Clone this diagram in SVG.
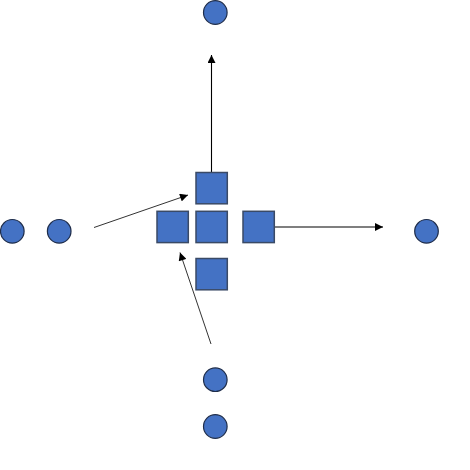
<svg xmlns="http://www.w3.org/2000/svg" width="470" height="470" viewBox="0 0 470 470">
<style>
.sq{fill:#4472C4;stroke:#3A4A66;stroke-width:1.5}
.ci{fill:#4472C4;stroke:#1F2D4A;stroke-width:1.2}
.ln{fill:none;stroke:#000;stroke-width:1.1}
.lg{fill:none;stroke:#333;stroke-width:1}
</style>
<defs>
<marker id="ah" viewBox="0 0 10 10" refX="10" refY="5" markerWidth="9" markerHeight="8" markerUnits="userSpaceOnUse" orient="auto">
<path d="M0,0 L10,5 L0,10 Z" fill="#000"/>
</marker>
</defs>
<rect width="470" height="470" fill="#fff"/>
<g id="connectors">
<line class="ln" x1="211.5" y1="172.5" x2="211.5" y2="55" marker-end="url(#ah)"/>
<line class="ln" x1="274.5" y1="227" x2="383" y2="227" marker-end="url(#ah)"/>
<line class="lg" x1="94" y1="227.5" x2="188" y2="195" marker-end="url(#ah)"/>
<line class="lg" x1="211" y1="344" x2="180" y2="252.5" marker-end="url(#ah)"/>
</g>
<g id="sq-center"><rect class="sq" x="196" y="211.3" width="31.3" height="31.3"/></g>
<g id="sq-top"><rect class="sq" x="196" y="172.5" width="31.3" height="31.3"/></g>
<g id="sq-left"><rect class="sq" x="157" y="211.3" width="31.3" height="31.3"/></g>
<g id="sq-right"><rect class="sq" x="243" y="211.3" width="31.3" height="31.3"/></g>
<g id="sq-bottom"><rect class="sq" x="196" y="258.5" width="31.3" height="31.3"/></g>
<g id="c-top"><circle class="ci" cx="215.3" cy="12.5" r="11.8"/></g>
<g id="c-left1"><circle class="ci" cx="12.3" cy="231.3" r="11.8"/></g>
<g id="c-left2"><circle class="ci" cx="59.2" cy="231.3" r="11.8"/></g>
<g id="c-right"><circle class="ci" cx="426.5" cy="231.3" r="11.8"/></g>
<g id="c-bottom1"><circle class="ci" cx="215.3" cy="379.7" r="11.8"/></g>
<g id="c-bottom2"><circle class="ci" cx="215.3" cy="426.5" r="11.8"/></g>
</svg>
